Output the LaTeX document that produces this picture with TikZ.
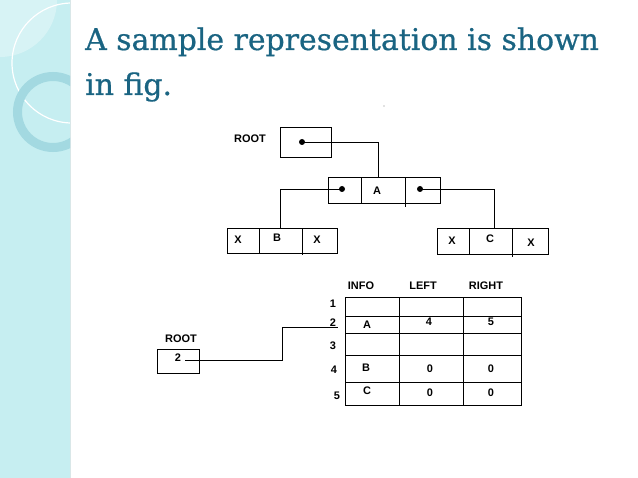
\documentclass[tikz,border=0pt]{standalone}
\usepackage{fontspec}
\setmainfont{DejaVu Serif}
\newfontfamily\titlefont[FakeBold=0.6]{DejaVu Serif}
\newfontfamily\diagfont{Liberation Sans}
\definecolor{sidebar}{HTML}{C6EEF1}
\definecolor{ringc}{HTML}{A3D9E1}
\definecolor{titlec}{HTML}{1A6482}
\begin{document}
\begin{tikzpicture}[x=1bp,y=-1bp,
  cell/.style={draw, line width=0.8pt, inner sep=0, outer sep=0},
  lbl/.style={font=\diagfont\bfseries\fontsize{11}{12}\selectfont, inner sep=0},
  ptr/.style={circle, fill, inner sep=0, minimum size=6bp},
  conn/.style={line width=0.7pt}]
\useasboundingbox (0,0) rectangle (638,478);
% sidebar
\fill[sidebar] (0,0) rectangle (70,478);
\begin{scope}
\clip (0,0) rectangle (70,478);
\fill[white, opacity=0.3] (0,0) circle (57);
\draw[white, line width=1.2pt] (72,63) circle (60);
\draw[ringc, line width=9bp] (53,112) circle (35.5);
\end{scope}
\draw[ringc!80!black, opacity=0.3, line width=0.6pt] (70,0) -- (70,478);
% title
\node[anchor=base west, inner sep=0, text=titlec, font=\titlefont\fontsize{30}{36}\selectfont] (t1) at (85,50) {A sample representation is shown};
\node[anchor=base west, inner sep=0, text=titlec, font=\titlefont\fontsize{30}{36}\selectfont] (t2) at (85,95) {in fig.};
% stray dot
\fill[gray] (384,106) circle (0.6);
% tree representation
\node[lbl, anchor=west] (rootlbl) at (234,139) {ROOT};
\node[cell, minimum width=51bp, minimum height=30bp] (rootbox) at (305.5,142) {};
\node[ptr] (rdot) at (302,142) {};
\node[cell, minimum width=33bp, minimum height=26bp] (aL) at (344.5,190) {};
\node[cell, minimum width=44bp, minimum height=26bp] (aM) at (383,190) {};
\node[cell, minimum width=35bp, minimum height=26bp] (aR) at (422.5,190) {};
\draw[conn] (aM.south east) -- ++(0,4);
\node[lbl] at (377,191) {A};
\node[ptr] (adl) at (342,189) {};
\node[ptr] (adr) at (420,189) {};
\node[cell, minimum width=32bp, minimum height=25bp] (bL) at (243,240.5) {};
\node[cell, minimum width=43bp, minimum height=25bp] (bM) at (280.5,240.5) {};
\node[cell, minimum width=35bp, minimum height=25bp] (bR) at (319.5,240.5) {};
\draw[conn] (bM.south east) -- ++(0,2);
\node[lbl] at (238,240) {X};
\node[lbl] at (277,238) {B};
\node[lbl] at (317,240) {X};
\node[cell, minimum width=32bp, minimum height=26bp] (cL) at (453,241) {};
\node[cell, minimum width=43bp, minimum height=26bp] (cM) at (490.5,241) {};
\node[cell, minimum width=36bp, minimum height=26bp] (cR) at (530,241) {};
\draw[conn] (cM.south east) -- ++(0,3);
\node[lbl] at (452,241) {X};
\node[lbl] at (490,239) {C};
\node[lbl] at (531,243) {X};
\draw[conn] (rdot.center) -| ([xshift=-5bp]aM.north);
\draw[conn] (adl.center) -| (bM.north);
\draw[conn] (adr.center) -| ([xshift=3.5bp]cM.north);
% array representation
\node[lbl] (hinfo) at (361,286) {INFO};
\node[lbl] (hleft) at (423,286) {LEFT};
\node[lbl] (hright) at (486,286) {RIGHT};
\draw[line width=0.8pt] (345,297) rectangle (521,405);
\foreach \yy in {316,333,355,382} \draw[line width=0.8pt] (345,\yy) -- (521,\yy);
\foreach \xx in {399,463} \draw[line width=0.8pt] (\xx,297) -- (\xx,405);
\node[lbl] (n1) at (333,304) {1};
\node[lbl] (n2) at (333,323) {2};
\node[lbl] (n3) at (333,346) {3};
\node[lbl] (n4) at (334,370) {4};
\node[lbl] (n5) at (337,396) {5};
\node[lbl] at (367,325) {A};
\node[lbl] at (429,322) {4};
\node[lbl] at (491,322) {5};
\node[lbl] at (366,368) {B};
\node[lbl] at (430,369) {0};
\node[lbl] at (491,369) {0};
\node[lbl] at (367,391) {C};
\node[lbl] at (430,393) {0};
\node[lbl] at (491,393) {0};
\node[lbl] (root2lbl) at (181,339) {ROOT};
\node[cell, minimum width=42bp, minimum height=24bp] (root2box) at (178,361) {};
\node[lbl] (two) at (178,358) {2};
\coordinate (bend) at (282,327);
\coordinate (t2end) at (338,327);
\draw[conn] ([xshift=4bp]two.east |- 0,360) -| (bend) -- (t2end);
\end{tikzpicture}
\end{document}
